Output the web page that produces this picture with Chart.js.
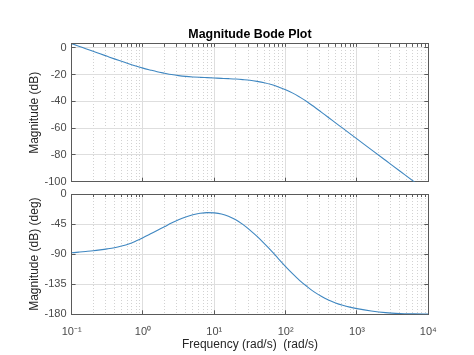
<!DOCTYPE html>
<html>
<head>
<meta charset="utf-8">
<script src="https://cdn.jsdelivr.net/npm/chart.js@4"></script>
<style>
  html, body { margin: 0; padding: 0; background: #ffffff; }
  #wrap { position: relative; width: 474px; height: 355px; overflow: hidden; background: #fff; }
  .box { position: absolute; left: 0; width: 474px; }
  #topBox { top: 0; height: 190px; }
  #botBox { top: 188px; height: 167px; }
</style>
</head>
<body>
<div id="wrap">
  <div class="box" id="topBox"><canvas id="magChart"></canvas></div>
  <div class="box" id="botBox"><canvas id="phaseChart"></canvas></div>
</div>
<script>
// ---- Data ----
const freqMag = [0.1, 0.126, 0.158, 0.2, 0.251, 0.316, 0.398, 0.501, 0.631, 0.794,
                 1, 1.26, 1.58, 2, 2.51, 3.16, 3.98, 5.01, 6.31, 7.94,
                 10, 12.6, 15.8, 20, 25.1, 31.6, 39.8, 50.1, 63.1, 79.4,
                 100, 126, 158, 200, 251, 316, 398, 501, 631,
                 1000, 1585, 2512, 3981, 6310, 6610];
const magDb   = [3.2, 1.3, -0.6, -2.5, -4.4, -6.3, -8.2, -10.0, -11.8, -13.5,
                 -15.1, -16.5, -17.8, -18.9, -19.9, -20.7, -21.3, -21.7, -22.0, -22.25,
                 -22.5, -22.75, -23.0, -23.3, -23.7, -24.2, -25.0, -26.0, -27.4, -29.2,
                 -31.3, -33.8, -36.8, -40.2, -44.0, -48.0, -52.0, -56.0, -60.0,
                 -68.0, -76.0, -84.0, -92.0, -100.0, -100.8];

const freqPhase = [0.1, 0.126, 0.158, 0.2, 0.251, 0.316, 0.398, 0.501, 0.631, 0.794,
                   1, 1.26, 1.58, 2, 2.51, 3.16, 3.98, 5.01, 6.31, 7.94,
                   10, 12.6, 15.8, 20, 25.1, 31.6, 39.8, 50.1, 63.1, 79.4,
                   100, 126, 158, 200, 251, 316, 398, 501, 631, 794,
                   1000, 1585, 2512, 3981, 6310, 10000];
const phaseDeg  = [-88, -87, -86, -84.9, -83.6, -82.1, -80.3, -77.8, -74.7, -70.4,
                   -65.5, -60, -54.5, -49, -43.5, -38.5, -34.3, -31, -28.9, -27.8,
                   -28.3, -30, -33.3, -38.5, -45.5, -54, -63.5, -74, -85, -97,
                   -108.5, -119.5, -129.5, -138.5, -146.5, -153, -158.5, -163, -166.5, -169.3,
                   -171.5, -175, -177.5, -178.8, -179.4, -179.8];

const xTickValues = [0.1, 1, 10, 100, 1000, 10000];
const xTickLabels = ['10\u207B\u00B9', '10\u2070', '10\u00B9', '10\u00B2', '10\u00B3', '10\u2074'];
const magTicks   = [-100, -80, -60, -40, -20, 0];
const phaseTicks = [-180, -135, -90, -45, 0];
const minorMultipliers = [2, 3, 4, 5, 6, 7, 8, 9];
const decades = [0.1, 1, 10, 100, 1000];

// ---- Styling ----
const FONT = '"Liberation Sans", Arial, Helvetica, sans-serif';
const LINE_COLOR = '#3f87c1';
const AXIS_COLOR = '#5a5a5a';
const MAJOR_GRID = '#dedede';
const MINOR_GRID = '#d2d2d2';
const TICK_COLOR = '#4a4a4a';
const LABEL_COLOR = '#262626';

const minorValues = [];
decades.forEach(d => minorMultipliers.forEach(m => minorValues.push(d * m)));
const allXValues = xTickValues.concat(minorValues).sort((a, b) => a - b);
const isDecade = v => xTickValues.some(d => Math.abs(d - v) / d < 1e-6);

function setTicks(values) {
  return function (scale) { scale.ticks = values.map(v => ({ value: v })); };
}
function fixSize(w, h) {
  return function (scale) {
    if (w !== null) scale.width = w;
    if (h !== null) scale.height = h;
    scale.paddingTop = 0; scale.paddingBottom = 0;
    scale.paddingLeft = 0; scale.paddingRight = 0;
  };
}

function makeChart(canvasId, xs, ys, yMin, yMax, yTickVals, yTitle, isBottom) {
  const pts = xs.map((x, i) => ({ x: x, y: ys[i] }));
  const scales = {
    x: {
      type: 'logarithmic', position: 'bottom', min: 0.1, max: 10000,
      afterBuildTicks: setTicks(xTickValues),
      afterFit: fixSize(null, isBottom ? 40.7 : 0),
      grid: { color: MAJOR_GRID, lineWidth: 1, drawTicks: true, tickLength: -4, tickColor: AXIS_COLOR },
      border: { display: true, color: AXIS_COLOR, width: 1 },
      ticks: {
        display: isBottom, autoSkip: false, maxRotation: 0, padding: 15,
        color: TICK_COLOR, font: { family: FONT, size: 11 },
        callback: (v, i) => xTickLabels[i]
      },
      title: {
        display: isBottom, text: 'Frequency (rad/s)  (rad/s)', color: LABEL_COLOR,
        font: { family: FONT, size: 12 }, padding: { top: 0, bottom: 3.5 }
      }
    },
    xMinor: {
      type: 'logarithmic', position: 'top', min: 0.1, max: 10000,
      afterBuildTicks: setTicks(allXValues),
      afterFit: fixSize(null, 0),
      grid: {
        color: ctx => (ctx.tick && isDecade(ctx.tick.value)) ? 'rgba(0,0,0,0)' : MINOR_GRID,
        lineWidth: 1, drawTicks: true, tickLength: -3, tickColor: AXIS_COLOR
      },
      border: { display: true, color: AXIS_COLOR, width: 1, dash: [1, 2] },
      ticks: { display: false }
    },
    y: {
      type: 'linear', position: 'left', min: yMin, max: yMax,
      afterBuildTicks: setTicks(yTickVals),
      afterFit: fixSize(71.6, null),
      grid: { color: MAJOR_GRID, lineWidth: 1, drawTicks: true, tickLength: -4, tickColor: AXIS_COLOR },
      border: { display: true, color: AXIS_COLOR, width: 1 },
      ticks: { padding: 9, color: TICK_COLOR, font: { family: FONT, size: 11 } },
      title: {
        display: true, text: yTitle, color: LABEL_COLOR,
        font: { family: FONT, size: 12 }, padding: { top: 27.8, bottom: 0 }
      }
    },
    yRight: {
      type: 'linear', position: 'right', min: yMin, max: yMax,
      afterBuildTicks: setTicks(yTickVals),
      afterFit: fixSize(0, null),
      grid: { display: true, drawOnChartArea: false, drawTicks: true, tickLength: -4, tickColor: AXIS_COLOR },
      border: { display: true, color: AXIS_COLOR, width: 1 },
      ticks: { display: false }
    }
  };
  return new Chart(document.getElementById(canvasId), {
    type: 'line',
    data: {
      datasets: [{
        data: pts,
        borderColor: LINE_COLOR,
        borderWidth: 1.1,
        pointRadius: 0,
        fill: false,
        cubicInterpolationMode: 'monotone',
        yAxisID: 'y', xAxisID: 'x'
      }]
    },
    options: {
      responsive: true, maintainAspectRatio: false, animation: false,
      devicePixelRatio: 1,
      layout: {
        padding: isBottom
          ? { left: 0, right: 45.7, top: 6, bottom: 0 }
          : { left: 0, right: 45.7, top: 0, bottom: 8.3 }
      },
      plugins: {
        legend: { display: false },
        tooltip: { enabled: false },
        title: {
          display: !isBottom, text: 'Magnitude Bode Plot', fullSize: false,
          color: '#000', font: { family: FONT, size: 12.4, weight: 'bold' },
          padding: { top: 27, bottom: 2 }
        }
      },
      scales: scales
    }
  });
}

makeChart('magChart', freqMag, magDb, -100, 3, magTicks, 'Magnitude (dB)', false);
makeChart('phaseChart', freqPhase, phaseDeg, -180, 0, phaseTicks, 'Magnitude (dB) (deg)', true);
</script>
</body>
</html>
